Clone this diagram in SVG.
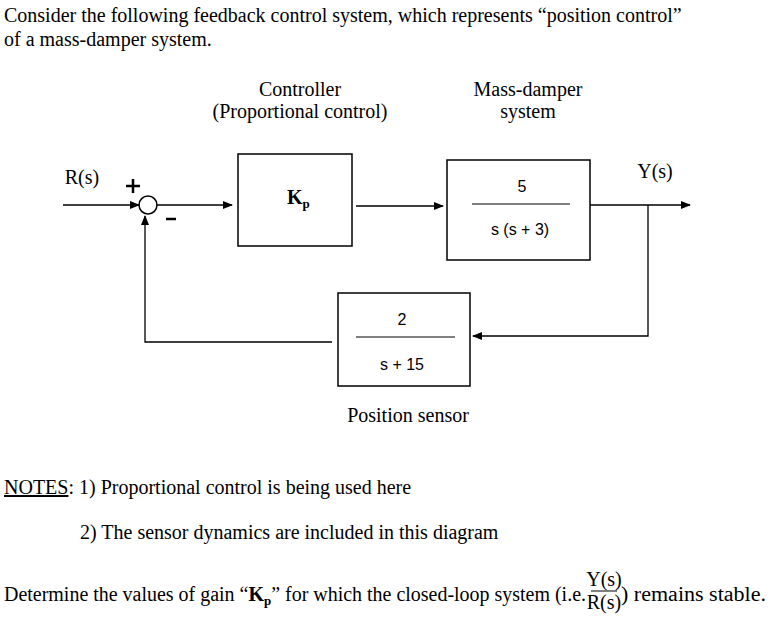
<svg xmlns="http://www.w3.org/2000/svg" width="771" height="622" viewBox="0 0 771 622">
<style>
text{font-family:"Liberation Serif","Times New Roman",serif;font-size:20px;fill:#000}
.s{font-family:"Liberation Sans Narrow","Liberation Sans",sans-serif;font-size:16px}
.b{fill:none;stroke:#000;stroke-width:1.5}
.l{fill:none;stroke:#000;stroke-width:1.3}
</style>
<defs><marker id="a" markerWidth="10" markerHeight="8" refX="9" refY="4" orient="auto" markerUnits="userSpaceOnUse"><path d="M0,0L10,4L0,8z" fill="#000"/></marker></defs>
<text x="4" y="22">Consider the following feedback control system, which represents “position control”</text>
<text x="4" y="46">of a mass-damper system.</text>
<text x="300" y="96" text-anchor="middle">Controller</text>
<text x="300" y="118" text-anchor="middle">(Proportional control)</text>
<text x="528" y="96" text-anchor="middle">Mass-damper</text>
<text x="528" y="118" text-anchor="middle">system</text>
<text x="82" y="184" text-anchor="middle">R(s)</text>
<text x="655" y="178" text-anchor="middle">Y(s)</text>
<path d="M126,186H140M133,179V193" stroke="#000" stroke-width="2.5"/>
<line x1="166" y1="219" x2="176" y2="219" stroke="#000" stroke-width="2.5"/>
<g id="sum"><circle cx="148" cy="205" r="9" class="b"/></g>
<g id="controller"><rect x="238" y="154" width="114" height="92" class="b"/><text x="287" y="204" font-weight="bold">K<tspan font-size="13" dy="4">p</tspan></text></g>
<g id="plant"><rect x="447" y="160" width="143" height="100" class="b"/><text x="522" y="192" class="s" text-anchor="middle">5</text><line x1="472" y1="204" x2="570" y2="204" stroke="#000"/><text x="520" y="235" class="s" text-anchor="middle">s (s + 3)</text></g>
<g id="sensor"><rect x="338" y="293" width="132" height="93" class="b"/><text x="402" y="325" class="s" text-anchor="middle">2</text><line x1="356" y1="337" x2="455" y2="337" stroke="#000"/><text x="402" y="370" class="s" text-anchor="middle">s + 15</text></g>
<g id="connectors">
<path d="M63,205H139" class="l" marker-end="url(#a)"/>
<path d="M157,205H232" class="l" marker-end="url(#a)"/>
<path d="M356,206H443" class="l" marker-end="url(#a)"/>
<path d="M590,205H690" class="l" marker-end="url(#a)"/>
<path d="M648,205V336H473" class="l" marker-end="url(#a)"/>
<path d="M332,342H145V216" class="l" marker-end="url(#a)"/>
</g>
<text x="408" y="422" text-anchor="middle">Position sensor</text>
<text x="4" y="494"><tspan text-decoration="underline">NOTES</tspan>:  1) Proportional control is being used here</text>
<text x="80" y="539">2) The sensor dynamics are included in this diagram</text>
<text x="4" y="601" textLength="582" lengthAdjust="spacingAndGlyphs">Determine the values of gain “<tspan font-weight="bold">K<tspan font-size="13" dy="4">p</tspan></tspan><tspan dy="-4">” for which the closed-loop system (i.e.</tspan></text>
<text x="604" y="586" text-anchor="middle" font-size="17">Y(s)</text>
<line x1="591" y1="591" x2="617" y2="591" stroke="#000"/>
<text x="604" y="609" text-anchor="middle" font-size="17">R(s)</text>
<text x="621" y="601" textLength="145" lengthAdjust="spacingAndGlyphs">) remains stable.</text>
</svg>
